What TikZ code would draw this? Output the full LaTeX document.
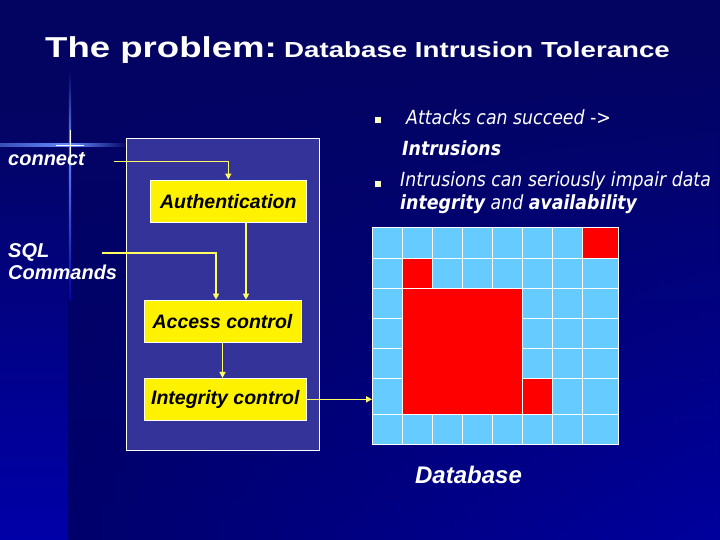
\documentclass[tikz,border=0pt]{standalone}
\usepackage{fontspec}
\setmainfont{Liberation Sans}
\newfontfamily\dvsans{DejaVu Sans}
\usetikzlibrary{arrows.meta,fadings}
\definecolor{bgtop}{RGB}{3,4,98}
\definecolor{bgleft}{RGB}{0,0,108}
\definecolor{bgright}{RGB}{0,0,158}
\definecolor{strip}{RGB}{0,0,168}
\definecolor{panel}{RGB}{51,51,153}
\definecolor{cellblue}{RGB}{102,204,255}
\definecolor{wire}{RGB}{255,255,100}
\definecolor{glow}{RGB}{100,140,255}
\definecolor{bulletcol}{RGB}{255,255,200}
\begin{document}
\begin{tikzpicture}[x=1pt,y=-1pt,
  box/.style={draw=white, line width=0.8pt, fill=yellow, inner sep=0pt, text=black,
    font=\fontsize{19.5}{22}\selectfont\bfseries\itshape},
  wirearrow/.style={draw=wire, line width=1.6pt, -{Triangle[length=6pt,width=6pt]}},
  lbl/.style={text=white, font=\fontsize{20}{22}\selectfont\bfseries\itshape, inner sep=0pt, anchor=base west},
  rt/.style={text=white, font=\dvsans\fontsize{19.5}{22}\selectfont\itshape, inner sep=0pt, anchor=base west},
  rtb/.style={text=white, font=\dvsans\fontsize{19.5}{22}\selectfont\bfseries\itshape, inner sep=0pt, anchor=base west},
  bulletsq/.style={fill=bulletcol, minimum size=6pt, inner sep=0pt},
  gridline/.style={draw=white, line width=1pt},
  hot/.style={fill=red, draw=white, line width=1pt}
]
\useasboundingbox (0,0) rectangle (720,540);
% background
\fill[bgtop] (0,0) rectangle (720,540);
\shade[left color=bgleft, right color=bgright, path fading=north] (68,60) rectangle (720,540);
\shade[top color=bgtop, bottom color=strip] (0,110) rectangle (68,540);
% sparkle
\shade[top color=bgtop, bottom color=glow] (68.8,72) rectangle (71.2,145);
\shade[top color=glow, bottom color=strip] (68.8,145) rectangle (71.2,300);
\shade[left color=glow!55!bgtop, right color=glow] (0,143.6) rectangle (70,146.4);
\shade[left color=glow, right color=bgtop] (70,143.6) rectangle (128,146.4);
\draw[white, line width=0.8pt] (70,130) -- (70,160) (56,145) -- (84,145);

% title
\node[anchor=base west, inner sep=0, text=white, font=\fontsize{28.8}{31}\selectfont\bfseries] (title1) at (45,58) {\scalebox{1.27}[1]{The problem:}};
\node[anchor=base west, inner sep=0, text=white, font=\fontsize{21.8}{24}\selectfont\bfseries] (title2) at (284,58) {\scalebox{1.27}[1]{Database Intrusion Tolerance}};

% panel
\node[draw=white, line width=0.8pt, fill=panel, minimum width=193pt, minimum height=312pt,
  anchor=north west, inner sep=0pt] (sys) at (126,138) {};
\node[box, minimum width=156.7pt, minimum height=42.7pt] (auth) at (228.3,201.3) {Authentication};
\node[box, minimum width=157pt, minimum height=42.3pt] (acc) at (222.5,321.2) {Access control};
\node[box, minimum width=162.7pt, minimum height=42pt] (int) at (225.3,399.3) {Integrity control};

% left labels
\node[lbl] (conn) at (8,166) {connect};
\node[lbl] (sql) at (8,257) {SQL};
\node[lbl] (cmd) at (8,279) {Commands};
\coordinate (c1) at (114,161.7);
\coordinate (s1) at (102,252.7);
\coordinate (a1) at ([xshift=17.7pt]auth.south);

% grid
\node[inner sep=0pt, minimum width=246pt, minimum height=216pt, anchor=north west,
  fill=cellblue] (grid) at (372,228) {};
\foreach \x in {402,432,462,492,522,552,582} \draw[gridline] (\x,228) -- (\x,444);
\foreach \y in {258,288,318,348,378,414} \draw[gridline] (372,\y) -- (618,\y);
\draw[gridline] (grid.north west) rectangle (grid.south east);
\filldraw[hot] (582,228) rectangle (618,258);
\filldraw[hot] (402,258) rectangle (432,288);
\filldraw[hot] (402,288) rectangle (522,414);
\filldraw[hot] (522,378) rectangle (552,414);
\node[text=white, font=\fontsize{24}{26}\selectfont\bfseries\itshape, inner sep=0pt, anchor=base] (dbl) at (468.5,483) {Database};

% connectors
\draw[wirearrow] (c1) -| (auth.north);
\draw[wirearrow] (s1) -| ([xshift=-6.5pt]acc.north);
\draw[wirearrow] (a1) -- (a1 |- acc.north);
\draw[wirearrow] (acc.south) -- (acc.south |- int.north);
\draw[wirearrow] (int.east) -- (int.east -| grid.west);

% right text
\node[bulletsq] (b1) at (377.5,120) {};
\node[bulletsq] (b2) at (377.5,184) {};
\node[rt] (t1) at (406,125) {\scalebox{0.89}[1]{Attacks can succeed ->}};
\node[rtb] (t2) at (402,156) {\scalebox{0.89}[1]{Intrusions}};
\node[rt] (t3) at (400,187) {\scalebox{0.89}[1]{Intrusions can seriously impair data}};
\node[rt] (t4) at (400,210) {\scalebox{0.89}[1]{{\bfseries integrity} and {\bfseries availability}}};
\end{tikzpicture}
\end{document}
